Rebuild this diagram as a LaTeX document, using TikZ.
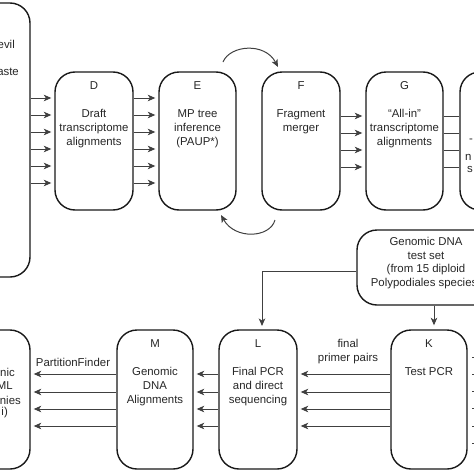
\documentclass[tikz,border=0pt]{standalone}
\usepackage{fontspec}
\setmainfont{Liberation Sans}
\usetikzlibrary{arrows.meta}
\begin{document}
\begin{tikzpicture}[x=1pt,y=-1pt,
  box/.style={draw=black!90, line width=1.4pt, rounded corners=20pt, inner sep=0pt},
  txt/.style={font=\fontsize{11.4}{14}\selectfont, text=black!85, align=center, inner sep=0pt},
  arr/.style={draw=black!75, line width=1pt, -{Stealth[length=7.5pt,width=6.5pt,inset=2pt]}, shorten >=3pt},
  ln/.style={draw=black!75, line width=1pt}]
\useasboundingbox (0,0) rectangle (474,474);
\clip (0,0) rectangle (474,474);
% top row boxes
\node[box, minimum width=78pt, minimum height=274pt] (A) at (-9,140) {};
\node[box, minimum width=78pt, minimum height=138pt] (D) at (94,141) {};
\node[box, minimum width=77pt, minimum height=138pt] (E) at (197.5,141) {};
\node[box, minimum width=78pt, minimum height=138pt] (F) at (301,141) {};
\node[box, minimum width=77pt, minimum height=138pt] (G) at (404.5,141) {};
\node[box, minimum width=78pt, minimum height=138pt] (H) at (499,141) {};
% genomic test set box
\node[box, minimum width=138pt, minimum height=75pt] (Gen) at (426,267.5) {};
% bottom row boxes
\node[box, minimum width=78pt, minimum height=139pt] (N) at (-9,399.5) {};
\node[box, minimum width=76pt, minimum height=139pt] (M) at (155,399.5) {};
\node[box, minimum width=78pt, minimum height=139pt] (L) at (258,399.5) {};
\node[box, minimum width=76pt, minimum height=139pt] (K) at (429,399.5) {};
% texts top row
\node[txt, anchor=east] (At1) at (15,44) {evil};
\node[txt, anchor=east] (At2) at (19,72) {aste};
\node[txt] (Dl) at (94,86) {D};
\node[txt, anchor=north] (Dt) at (94,109) {Draft\\transcriptome\\alignments};
\node[txt] (El) at (197.5,86) {E};
\node[txt, anchor=north] (Et) at (197.5,109) {MP tree\\inference\\(PAUP*)};
\node[txt] (Fl) at (301,86) {F};
\node[txt, anchor=north] (Ft) at (301,109) {Fragment\\merger};
\node[txt] (Gl) at (404.5,86) {G};
\node[txt, anchor=north] (Gt) at (404.5,109) {“All-in”\\transcriptome\\alignments};
\node[txt, anchor=west] (Ht1) at (469,141) {-};
\node[txt, anchor=west] (Ht2) at (465,157) {n};
\node[txt, anchor=west] (Ht3) at (467,169) {s};
% genomic box text
\node[txt, anchor=north, font=\fontsize{11.4}{13.4}\selectfont] (Gent) at (426,237.5) {Genomic DNA\\test set\\(from 15 diploid\\Polypodiales species)};
% bottom row texts
\node[txt, anchor=east] (Nt1) at (15,372) {nic};
\node[txt, anchor=east] (Nt2) at (13,386) {ML};
\node[txt, anchor=east] (Nt3) at (21,400) {nies};
\node[txt, anchor=east] (Nt4) at (8,413) {i)};
\node[txt] (Ml) at (155,344) {M};
\node[txt, anchor=north] (Mt) at (155,367) {Genomic\\DNA\\Alignments};
\node[txt] (Ll) at (258,344) {L};
\node[txt, anchor=north] (Lt) at (258,367) {Final PCR\\and direct\\sequencing};
\node[txt] (Kl) at (429,344) {K};
\node[txt, anchor=north] (Kt) at (429,367) {Test PCR};
\node[txt] (PF) at (73,362) {PartitionFinder};
\node[txt] (FP) at (348,352) {final\\primer pairs};
% connectors top row
\foreach \y in {98,115,132,149,166,183} {
  \draw[arr] (A.east |- 0,\y) -- (D.west |- 0,\y);
  \draw[arr] (D.east |- 0,\y) -- (E.west |- 0,\y);
}
\foreach \y in {116,133,150,167} {
  \draw[arr] (F.east |- 0,\y) -- (G.west |- 0,\y);
  \draw[ln] (G.east |- 0,\y) -- (H.west |- 0,\y);
}
% curved arrows between E and F
\coordinate (c1) at (223,62);
\coordinate (c2) at (278,67);
\coordinate (c3) at (275,220);
\coordinate (c4) at (221,215);
\draw[arr, shorten >=0pt] (c1) .. controls (230,45) and (265,42) .. (c2);
\draw[arr, shorten >=0pt] (c3) .. controls (270,238) and (235,240) .. (c4);
% genomic box to L and K
\coordinate (Ltop) at (262,330);
\draw[arr, shorten >=4pt] (Gen.west |- 0,271) -| (Ltop);
\draw[arr, shorten >=4pt] (Gen.south -| 434,0) -- (K.north -| 434,0);
% bottom row connectors
\foreach \y in {374,392,409,426} {
  \draw[arr] (K.west |- 0,\y) -- (L.east |- 0,\y);
  \draw[arr] (L.west |- 0,\y) -- (M.east |- 0,\y);
  \draw[arr] (M.west |- 0,\y) -- (N.east |- 0,\y);
}
\foreach \y in {357,374,391,408,426,443} {
  \coordinate (r\y) at (490,\y);
  \draw[ln] (r\y) -- ([xshift=4pt]K.east |- 0,\y);
}
\end{tikzpicture}
\end{document}
